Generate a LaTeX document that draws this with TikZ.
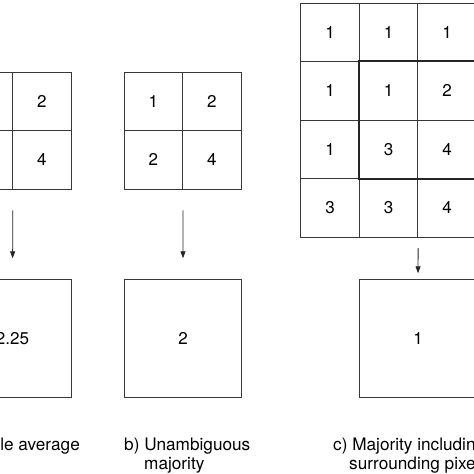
\documentclass[tikz,border=0pt]{standalone}
\usepackage{fontspec}
\setmainfont{TeX Gyre Heros}
\usetikzlibrary{arrows.meta}
\definecolor{gridline}{RGB}{55,55,55}
\begin{document}
\begin{tikzpicture}[x=1pt,y=-1pt,
  cell/.style={draw=gridline, line width=0.9pt, minimum size=58.5pt, inner sep=0pt,
               font=\fontsize{17}{19}\selectfont},
  outbox/.style={draw=gridline, line width=0.9pt, minimum size=117.5pt, inner sep=0pt,
               font=\fontsize{17}{19}\selectfont},
  caption/.style={inner sep=0pt, font=\fontsize{17.2}{18.3}\selectfont},
  arr/.style={draw=black!85, line width=0.8pt, -{Triangle[length=7pt,width=5pt]}},
  thickframe/.style={draw=black!85, line width=1.8pt}]
\useasboundingbox (0,0) rectangle (474,474);
\clip (0,0) rectangle (474,474);
\fill[white] (0,0) rectangle (474,474);

% ---- a) simple average ----
\node[cell] (a11) at (-16.75,101.25) {1};
\node[cell] (a12) at (41.75,101.25) {2};
\node[cell] (a21) at (-16.75,159.75) {2};
\node[cell] (a22) at (41.75,159.75) {4};
\node[outbox] (aout) at (12.5,338.5) {2.25};
\draw[arr, shorten <=21pt, shorten >=21pt] (a21.south east) -- (aout.north);
\node[caption, anchor=base east] (capa) at (80,450.7) {a) Simple average};

% ---- b) unambiguous majority ----
\node[cell] (b11) at (153.25,101.25) {1};
\node[cell] (b12) at (211.75,101.25) {2};
\node[cell] (b21) at (153.25,159.75) {2};
\node[cell] (b22) at (211.75,159.75) {4};
\node[outbox] (bout) at (183,338.5) {2};
\draw[arr, shorten <=21pt, shorten >=21pt] (b21.south east) -- (bout.north);
\node[caption, anchor=base west] (capb1) at (124,450.7) {b) Unambiguous};
\node[caption, anchor=base west] (capb2) at (144,469) {majority};

% ---- c) majority including surrounding pixels ----
\node[cell] (c11) at (330,32.3) {1};
\node[cell] (c12) at (388.5,32.3) {1};
\node[cell] (c13) at (447,32.3) {1};
\node[cell] (c21) at (330,90.8) {1};
\node[cell] (c22) at (388.5,90.8) {1};
\node[cell] (c23) at (447,90.8) {2};
\node[cell] (c31) at (330,149.3) {1};
\node[cell] (c32) at (388.5,149.3) {3};
\node[cell] (c33) at (447,149.3) {4};
\node[cell] (c41) at (330,207.8) {3};
\node[cell] (c42) at (388.5,207.8) {3};
\node[cell] (c43) at (447,207.8) {4};
\draw[thickframe] (c22.north west) rectangle (c33.south east);
\node[outbox] (cout) at (418,338.5) {1};
\draw[arr, shorten <=10.5pt, shorten >=6pt] (c42.south east) -- (cout.north);
\node[caption, anchor=base west] (capc1) at (333,450.7) {c) Majority including};
\node[caption, anchor=base west] (capc2) at (349,469) {surrounding pixels};
\end{tikzpicture}
\end{document}
